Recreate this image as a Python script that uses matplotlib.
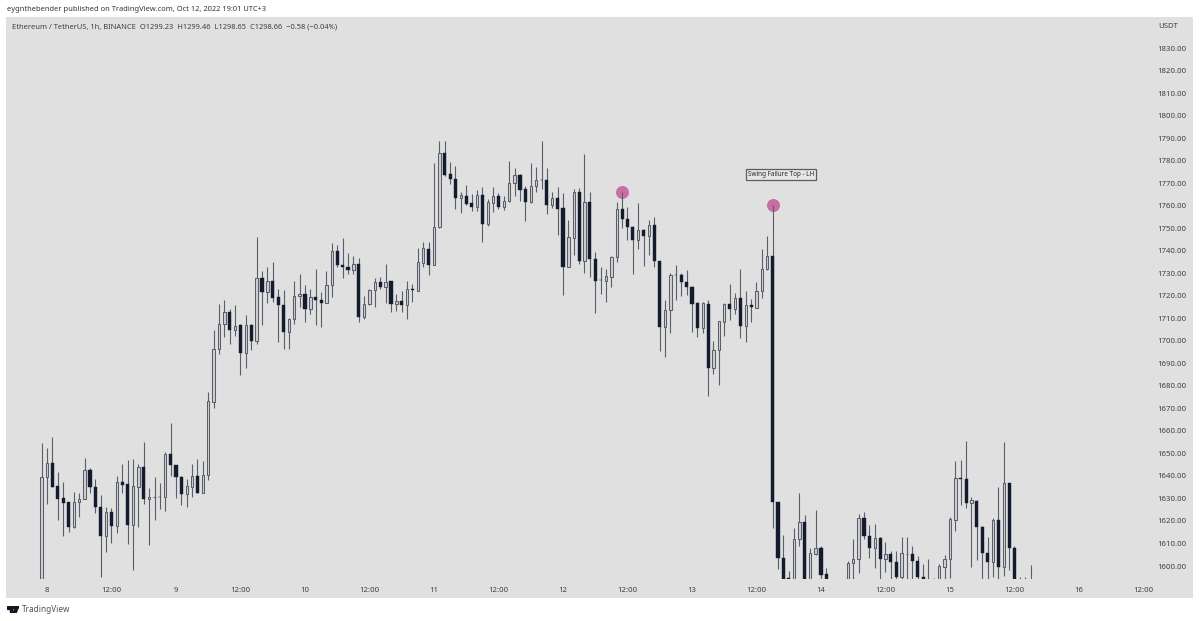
import numpy as np
import matplotlib
matplotlib.use("Agg")
import matplotlib.pyplot as plt
from matplotlib.patches import Rectangle, Polygon

plt.rcParams['font.family'] = ['Noto Sans', 'DejaVu Sans']

# hourly candles, first one is the last hour of Oct 7
first_hour = -1

opens = [
    1590, 1639.7, 1645.9, 1635.5, 1630.0, 1628.3, 1617.3, 1628.3, 1629.7, 1642.6,
    1634.9, 1626.0, 1613.5, 1624.1, 1617.8, 1637.1, 1636.3, 1618.1, 1635.2, 1643.8,
    1629.6, 1630.5, 1630.7, 1630.6, 1649.7, 1644.8, 1639.5, 1632.0, 1635.2, 1639.8,
    1632.3, 1640.4, 1672.8, 1696.2, 1707.3, 1712.6, 1704.6, 1706.8, 1694.7, 1706.8,
    1700.0, 1728.0, 1721.5, 1726.4, 1719.3, 1715.9, 1703.7, 1709.6, 1719.7, 1721.0,
    1713.9, 1719.3, 1718.1, 1716.9, 1724.9, 1740.0, 1733.5, 1732.7, 1731.4, 1734.1,
    1710.7, 1716.2, 1722.5, 1725.9, 1723.7, 1726.4, 1716.3, 1717.5, 1715.7, 1723.0,
    1722.3, 1734.7, 1740.9, 1733.8, 1750.4, 1783.2, 1773.9, 1772.0, 1763.3, 1764.3,
    1761.0, 1759.3, 1764.7, 1752.0, 1761.3, 1764.4, 1759.6, 1761.9, 1769.9, 1773.5,
    1767.4, 1761.6, 1768.6, 1771.4, 1771.4, 1760.4, 1763.6, 1758.8, 1732.6, 1745.8,
    1766.2, 1735.4, 1761.5, 1736.4, 1727.0, 1726.7, 1728.5, 1737.1, 1758.5, 1754.0,
    1750.7, 1744.8, 1749.1, 1746.6, 1751.4, 1735.5, 1706.3, 1713.6, 1729.1, 1729.0,
    1726.3, 1724.1, 1716.7, 1705.9, 1716.5, 1687.8, 1695.8, 1708.5, 1716.2, 1714.0,
    1719.2, 1706.6, 1715.9, 1714.7, 1722.0, 1731.8, 1737.7, 1628.6, 1603.7, 1594.5,
    1592, 1611.9, 1619.4, 1590, 1605.3, 1608.2, 1596.3, 1592, 1587, 1584,
    1590, 1601.2, 1603.0, 1621.5, 1613.5, 1607.9, 1612.4, 1603.0, 1605.2, 1601.9,
    1595.3, 1605.5, 1605.3, 1602.2, 1595.0, 1588, 1589, 1591, 1599.7, 1603.0,
    1620.4, 1639.1, 1638.6, 1628.1, 1629.0, 1617.3, 1605.6, 1601.6, 1620.4, 1599.7,
    1637.0, 1607.9, 1590, 1589, 1590,
]
highs = [
    1654.8, 1652.2, 1657.4, 1641.9, 1637.4, 1628.6, 1633.0, 1632.3, 1647.8, 1643.4,
    1638.5, 1631.5, 1626.0, 1625.6, 1639.9, 1645.1, 1646.9, 1647.4, 1645.3, 1655.2,
    1634.8, 1639.4, 1636.7, 1650.5, 1663.6, 1644.8, 1639.9, 1638.5, 1645.3, 1647.5,
    1646.8, 1677.3, 1704.8, 1716.2, 1718.1, 1713.9, 1715.9, 1707.3, 1711.3, 1707.3,
    1745.9, 1730.9, 1732.9, 1735.1, 1723.0, 1722.5, 1710.2, 1726.7, 1729.5, 1724.7,
    1723.0, 1731.7, 1721.8, 1731.1, 1743.5, 1742.5, 1745.5, 1739.1, 1737.6, 1736.9,
    1719.9, 1723.0, 1727.7, 1728.4, 1734.1, 1726.5, 1720.7, 1722.1, 1726.5, 1725.2,
    1741.1, 1744.0, 1744.0, 1778.8, 1788.9, 1788.9, 1779.5, 1777.8, 1766.2, 1769.0,
    1765.0, 1767.0, 1768.4, 1762.8, 1768.1, 1765.5, 1764.4, 1779.8, 1776.6, 1774.1,
    1768.7, 1779.1, 1777.3, 1788.9, 1776.9, 1765.9, 1768.1, 1765.5, 1753.6, 1767.3,
    1767.7, 1782.9, 1765.9, 1739.6, 1732.6, 1731.7, 1737.8, 1761.5, 1766.0, 1759.3,
    1751.0, 1761.1, 1749.5, 1753.7, 1754.8, 1735.5, 1718.1, 1730.3, 1733.5, 1730.0,
    1731.5, 1724.3, 1717.4, 1717.1, 1718.1, 1699.9, 1709.0, 1716.7, 1725.1, 1721.4,
    1731.8, 1722.1, 1718.4, 1726.3, 1740.8, 1746.7, 1760.3, 1628.6, 1613.8, 1597.8,
    1616.7, 1632.3, 1622.7, 1607.9, 1624.9, 1609.0, 1599.0, 1593, 1591, 1592,
    1602.2, 1611.9, 1623.1, 1624.1, 1618.2, 1618.7, 1613.0, 1610.7, 1606.7, 1606.8,
    1613.0, 1612.7, 1609.0, 1604.5, 1600.9, 1603.1, 1594.5, 1600.9, 1604.9, 1621.6,
    1646.8, 1647.1, 1655.5, 1630.8, 1629.3, 1617.8, 1613.0, 1621.2, 1635.2, 1655.2,
    1637.0, 1609.0, 1595.3, 1595.3, 1600.5,
]
lows = [
    1588, 1627.4, 1634.9, 1620.4, 1613.5, 1615.2, 1617.0, 1621.6, 1629.6, 1632.6,
    1623.7, 1595.3, 1606.4, 1610.4, 1614.8, 1632.3, 1609.6, 1598.2, 1617.2, 1627.4,
    1609.3, 1620.4, 1625.4, 1624.6, 1639.9, 1630.3, 1627.1, 1626.3, 1630.8, 1632.3,
    1632.3, 1638.2, 1670.2, 1694.0, 1701.5, 1698.8, 1702.1, 1684.6, 1688.0, 1695.9,
    1698.8, 1707.0, 1717.0, 1717.3, 1699.4, 1696.2, 1696.2, 1707.4, 1714.8, 1708.2,
    1711.7, 1707.0, 1706.2, 1716.6, 1719.6, 1732.6, 1728.1, 1729.6, 1729.6, 1708.2,
    1709.5, 1715.9, 1715.1, 1723.0, 1717.0, 1712.9, 1713.3, 1713.0, 1709.5, 1717.2,
    1722.3, 1732.6, 1729.4, 1733.8, 1749.9, 1773.3, 1769.5, 1758.7, 1756.9, 1760.2,
    1757.5, 1757.5, 1743.9, 1750.8, 1757.3, 1758.5, 1757.9, 1761.6, 1764.3, 1761.9,
    1753.3, 1761.3, 1766.2, 1767.4, 1756.3, 1758.8, 1747.1, 1720.5, 1732.6, 1738.1,
    1733.9, 1730.3, 1728.5, 1712.2, 1720.6, 1717.4, 1724.1, 1735.2, 1750.3, 1744.8,
    1729.7, 1740.6, 1733.4, 1738.0, 1732.9, 1695.6, 1693.0, 1703.6, 1718.1, 1720.1,
    1720.4, 1703.8, 1701.9, 1703.6, 1675.5, 1685.3, 1680.3, 1702.2, 1709.3, 1711.9,
    1701.1, 1699.6, 1708.5, 1714.4, 1719.2, 1731.5, 1616.7, 1598.5, 1588, 1590,
    1588, 1609.0, 1587, 1587, 1604.9, 1593, 1592, 1584, 1580, 1581,
    1588, 1590, 1596.8, 1611.9, 1603.7, 1599.0, 1590, 1597.5, 1590, 1592,
    1590, 1590, 1591, 1592, 1590, 1585, 1586, 1588, 1592, 1594.8,
    1615.6, 1627.1, 1625.9, 1599.4, 1602.7, 1592, 1592, 1595.3, 1593, 1595.7,
    1598.2, 1588, 1585, 1586, 1588,
]
closes = [
    1639.7, 1645.9, 1635.2, 1629.9, 1628.1, 1617.3, 1628.4, 1629.9, 1642.6, 1634.9,
    1626.0, 1613.5, 1624.1, 1617.8, 1637.1, 1636.1, 1618.1, 1635.4, 1643.8, 1629.6,
    1630.5, 1630.6, 1630.5, 1649.9, 1645.0, 1639.4, 1632.0, 1635.4, 1639.8, 1632.3,
    1640.3, 1673.3, 1696.4, 1707.3, 1712.6, 1704.8, 1706.7, 1694.7, 1706.8, 1700.0,
    1728.0, 1721.6, 1726.4, 1719.1, 1715.7, 1703.9, 1709.8, 1719.9, 1720.9, 1714.1,
    1719.3, 1718.1, 1716.9, 1724.9, 1740.0, 1733.5, 1732.6, 1731.4, 1734.1, 1710.7,
    1716.5, 1722.7, 1725.9, 1723.7, 1726.2, 1716.5, 1717.5, 1715.7, 1723.1, 1722.6,
    1734.8, 1741.1, 1733.8, 1750.7, 1783.2, 1773.8, 1771.8, 1763.4, 1764.6, 1760.7,
    1759.3, 1764.7, 1752.0, 1761.6, 1764.4, 1759.4, 1762.1, 1769.9, 1773.5, 1767.1,
    1761.6, 1768.7, 1771.4, 1771.3, 1760.4, 1763.6, 1758.7, 1732.6, 1745.9, 1766.2,
    1735.4, 1761.5, 1736.3, 1726.7, 1726.9, 1728.6, 1737.1, 1758.5, 1754.0, 1750.7,
    1744.8, 1749.1, 1746.6, 1751.4, 1735.3, 1706.3, 1713.6, 1729.1, 1729.0, 1726.3,
    1723.9, 1716.4, 1705.9, 1716.7, 1688.0, 1695.8, 1708.7, 1716.2, 1714.1, 1719.2,
    1706.6, 1715.9, 1714.9, 1722.0, 1731.9, 1737.7, 1628.6, 1603.7, 1592, 1594.4,
    1611.9, 1619.4, 1590, 1605.6, 1608.2, 1596.0, 1594.0, 1587, 1584, 1590,
    1601.5, 1603.1, 1621.5, 1613.3, 1608.0, 1612.4, 1603.0, 1605.2, 1601.9, 1595.3,
    1605.6, 1605.5, 1602.2, 1595.0, 1593.5, 1592, 1591, 1600.0, 1603.0, 1620.7,
    1639.2, 1638.5, 1628.1, 1629.2, 1617.3, 1605.6, 1601.6, 1620.4, 1599.7, 1637.0,
    1607.9, 1592, 1589, 1592, 1593,
]

price_ticks = list(range(1600, 1840, 10))
time_ticks = list(range(0, 216, 12))
time_labels = ['8', '12:00', '9', '12:00', '10', '12:00', '11', '12:00', '12',
               '12:00', '13', '12:00', '14', '12:00', '15', '12:00', '16', '12:00']

# swing failure markers sit on the tops of these two candles
marker_hours = [107, 135]

W, H = 1200, 621
UP_FACE = '#cfcfd4'
UP_EDGE = '#5a5e68'
DOWN = '#131b2e'
WICK = '#5a5e68'
TEXT = '#3c3f47'

fig = plt.figure(figsize=(W / 100, H / 100), dpi=100, facecolor='white')
fig.add_artist(Rectangle((6 / W, 1 - 598 / H), 1187 / W, 581 / H, transform=fig.transFigure,
                         facecolor='#e0e0e0', edgecolor='none', zorder=-1))

ax = fig.add_axes([6 / W, 1 - 579 / H, 1146 / W, 562 / H])
ax.patch.set_alpha(0)
for s in ax.spines.values():
    s.set_visible(False)

o = np.array(opens)
hi = np.array(highs)
lo = np.array(lows)
c = np.array(closes)
hours = np.arange(len(o)) + first_hour
up = c >= o

ax.vlines(hours, lo, hi, colors=WICK, linewidth=0.8, zorder=3)
ax.bar(hours[up], np.abs(c - o)[up], bottom=np.minimum(o, c)[up], width=0.46,
       facecolor=UP_FACE, edgecolor=UP_EDGE, linewidth=0.75, zorder=4)
ax.bar(hours[~up], np.abs(c - o)[~up], bottom=np.minimum(o, c)[~up], width=0.6,
       facecolor=DOWN, edgecolor=DOWN, linewidth=0.3, zorder=4)

idx = np.array(marker_hours) - first_hour
ax.scatter(marker_hours, hi[idx], s=88, color='#c86ea2', linewidths=0, zorder=2)

ax.text(136.6, 1773.9, 'Swing Failure Top - LH', fontsize=4.6, color='#26282e',
        ha='center', va='center', zorder=5,
        bbox=dict(boxstyle='square,pad=0.3', facecolor='#e6e6e6', edgecolor='#5a5e68', linewidth=0.9))

ax.set_xlim((6 - 47) / 5.375, (1152 - 47) / 5.375)
ax.set_ylim(1600 - 13 / 2.252, 1600 + 549 / 2.252)

ax.yaxis.tick_right()
ax.set_yticks(price_ticks)
ax.set_yticklabels(['%.2f' % p for p in price_ticks])
ax.set_xticks(time_ticks)
ax.set_xticklabels(time_labels)
ax.tick_params(axis='both', length=0, labelsize=5.6, labelcolor=TEXT)
ax.tick_params(axis='y', pad=4)
ax.tick_params(axis='x', pad=6)
ax.get_xticklabels()[8].set_fontweight('bold')

fig.text(1158 / W, 1 - 26 / H, 'USDT', fontsize=5.6, color=TEXT, va='center')
fig.text(7 / W, 1 - 9.5 / H, 'eygnthebender published on TradingView.com, Oct 12, 2022 19:01 UTC+3',
         fontsize=5.4, color='#33363d', va='center')
fig.text(12 / W, 1 - 27.5 / H,
         'Ethereum / TetherUS, 1h, BINANCE  O1299.23  H1299.46  L1298.65  C1298.66  \u22120.58 (\u22120.04%)',
         fontsize=5.4, color=TEXT, va='center')
fig.text(22 / W, 1 - 609.5 / H, 'TradingView', fontsize=5.9, color='#50535b', va='center')

# TradingView logo
logo = fig.add_axes([7 / W, 1 - 613 / H, 12 / W, 7 / H])
logo.set_xlim(0, 12)
logo.set_ylim(7, 0)
logo.axis('off')
logo.add_patch(Polygon([(0, 0), (5, 0), (5, 7), (2.5, 7), (2.5, 2.5), (0, 2.5)], color='#131722'))
logo.add_patch(Polygon([(9, 0), (12, 0), (9, 7), (6, 7)], color='#131722'))
logo.add_patch(Rectangle((5.8, 0), 2.2, 2.4, color='#131722'))

fig.savefig('out.png', dpi=100)
